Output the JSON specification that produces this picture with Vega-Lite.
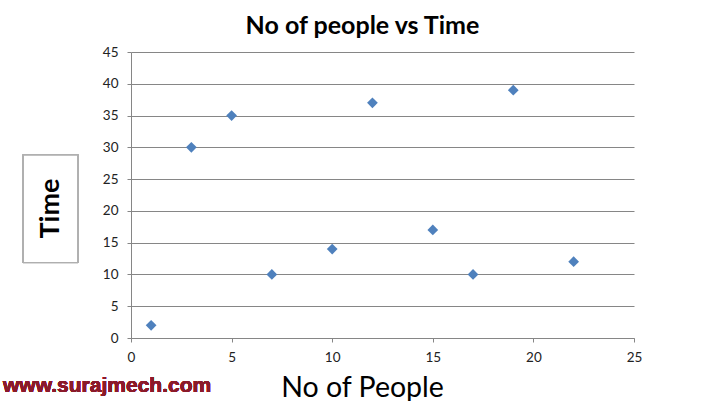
{
  "$schema": "https://vega.github.io/schema/vega-lite/v6.json",
  "autosize": {"type": "none"},
  "padding": {"left": 131, "top": 52, "right": 92, "bottom": 63},
  "width": 503,
  "height": 286,
  "background": "white",
  "config": {"view": {"stroke": null}, "font": "Lato"},
  "title": {
    "text": "No of people vs Time",
    "font": "Lato",
    "fontSize": 25,
    "fontWeight": "bold",
    "color": "#000000",
    "anchor": "middle",
    "dx": -20,
    "offset": 6
  },
  "data": {
    "values": [
      {"people": 1, "time": 2},
      {"people": 3, "time": 30},
      {"people": 5, "time": 35},
      {"people": 7, "time": 10},
      {"people": 10, "time": 14},
      {"people": 12, "time": 37},
      {"people": 15, "time": 17},
      {"people": 17, "time": 10},
      {"people": 19, "time": 39},
      {"people": 22, "time": 12}
    ]
  },
  "resolve": {"axis": {"x": "independent", "y": "independent"}},
  "layer": [
    {
      "mark": {"type": "point", "shape": "diamond", "filled": true, "size": 115, "color": "#4f81bd", "opacity": 1},
      "encoding": {
        "x": {
          "field": "people",
          "type": "quantitative",
          "scale": {"domain": [0, 25], "nice": false, "zero": true},
          "axis": {
            "values": [0, 5, 10, 15, 20, 25],
            "grid": false,
            "labelFlush": false,
            "domainColor": "#868686",
            "tickColor": "#868686",
            "tickSize": 4,
            "labelFont": "Lato",
            "labelFontSize": 13.5,
            "labelColor": "#222222",
            "labelPadding": 8,
            "title": "No of People",
            "titleFont": "Lato",
            "titleFontSize": 28.5,
            "titleFontWeight": "normal",
            "titleColor": "#000000",
            "titleX": 231,
            "titleY": 58,
            "titleBaseline": "alphabetic"
          }
        },
        "y": {
          "field": "time",
          "type": "quantitative",
          "scale": {"domain": [0, 45], "nice": false},
          "axis": {
            "values": [0, 5, 10, 15, 20, 25, 30, 35, 40, 45],
            "grid": true,
            "labelFlush": false,
            "gridColor": "#868686",
            "domainColor": "#868686",
            "tickColor": "#868686",
            "tickSize": 4,
            "labelFont": "Lato",
            "labelFontSize": 13.5,
            "labelColor": "#222222",
            "labelPadding": 9,
            "title": "Time",
            "titleFont": "Lato",
            "titleFontSize": 27,
            "titleFontWeight": "bold",
            "titleColor": "#000000",
            "titleAngle": -90,
            "titleX": -81,
            "titleY": 156,
            "titleAlign": "center",
            "titleBaseline": "middle"
          }
        }
      }
    },
    {
      "mark": {"type": "rect", "fill": null, "fillOpacity": 0, "stroke": "#b0b0b0", "strokeWidth": 1},
      "encoding": {
        "x": {"datum": -5.37, "type": "quantitative", "axis": null},
        "x2": {"datum": -2.63},
        "y": {"datum": 28.85, "type": "quantitative", "axis": null},
        "y2": {"datum": 11.87}
      }
    },
    {
      "mark": {"type": "text", "text": "www.surajmech.com", "font": "Liberation Sans", "fontSize": 21, "fontWeight": "bold", "color": "#8b1a2a", "align": "left", "baseline": "alphabetic"},
      "encoding": {
        "x": {"datum": -6.36, "type": "quantitative", "axis": null},
        "y": {"datum": -8.5, "type": "quantitative", "axis": null}
      }
    }
  ]
}
